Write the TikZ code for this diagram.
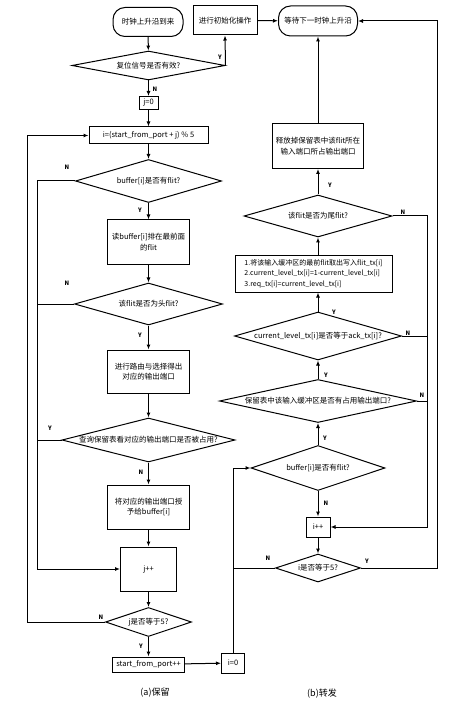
\documentclass[tikz,border=0pt]{standalone}
\usepackage{fontspec}
\setmainfont{Noto Sans CJK SC}
\usetikzlibrary{shapes.geometric,arrows.meta}

\newcommand{\dlab}[1]{\makebox[0pt]{#1}}

\tikzset{
  box/.style={draw, line width=1pt, inner sep=1pt, align=center, font=\fontsize{7.5}{10.5}\selectfont},
  term/.style={box, rounded corners=12pt},
  dec/.style={draw, diamond, line width=1pt, inner sep=0pt, font=\fontsize{7.5}{10}\selectfont},
  arr/.style={line width=1pt, -{Latex[length=5pt,width=4pt]}},
  ln/.style={line width=1pt},
  yn/.style={font=\fontsize{6}{7}\selectfont\bfseries, inner sep=0pt},
}

\begin{document}
\begin{tikzpicture}[x=1pt, y=-1pt]

  \useasboundingbox (0,0) rectangle (450,708);

  % (a) reservation
  \node[term, minimum width=70pt, minimum height=29pt] (clk) at (148,22) {时钟上升沿到来};
  \node[dec, minimum width=153pt, minimum height=29pt] (rst) at (148.5,65.5) {\dlab{复位信号是否有效?}};
  \node[box, minimum width=64pt, minimum height=29pt] (init) at (225,20.5) {进行初始化操作};
  \node[term, minimum width=79pt, minimum height=30pt] (wait) at (318,21) {等待下一时钟上升沿};
  \node[box, minimum width=19pt, minimum height=13pt] (j0) at (148.5,103) {j=0};
  \node[box, minimum width=119pt, minimum height=17pt] (calc) at (148.5,135.5) {i=(start\_from\_port + j) \% 5};
  \node[dec, minimum width=146pt, minimum height=43pt] (buf) at (148.5,181) {\dlab{buffer[i]是否有flit?}};
  \node[box, minimum width=82pt, minimum height=44pt] (rd) at (148.5,242) {读buffer[i]排在最前面\\的flit};
  \node[dec, minimum width=148pt, minimum height=42pt] (head) at (148.5,304) {\dlab{该flit是否为头flit?}};
  \node[box, minimum width=82pt, minimum height=43pt] (route) at (148.5,371.5) {进行路由与选择得出\\对应的输出端口};
  \node[dec, minimum width=173pt, minimum height=44pt] (chk) at (148.5,440) {\dlab{查询保留表看对应的输出端口是否被占用?}};
  \node[box, minimum width=82pt, minimum height=44pt] (grant) at (148.5,507) {将对应的输出端口授\\予给buffer[i]};
  \node[box, minimum width=56pt, minimum height=44pt] (jinc) at (148.5,569) {j++};
  \node[dec, minimum width=86pt, minimum height=29pt] (jeq) at (148.5,622) {\dlab{j是否等于5?}};
  \node[box, minimum width=72pt, minimum height=15pt] (sfp) at (148.5,664.5) {start\_from\_port++};
  \node[box, minimum width=23pt, minimum height=20pt] (i0) at (233,663) {i=0};

  % (b) forwarding
  \node[dec, minimum width=134pt, minimum height=45pt] (rbuf) at (318,468) {\dlab{buffer[i]是否有flit?}};
  \node[box, minimum width=24pt, minimum height=20pt] (iinc) at (318,527) {i++};
  \node[dec, minimum width=85pt, minimum height=28pt] (ieq) at (318,568) {\dlab{i是否等于5?}};
  \node[dec, minimum width=197pt, minimum height=43pt] (occ) at (318,401) {\dlab{保留表中该输入缓冲区是否有占用输出端口?}};
  \node[dec, minimum width=167pt, minimum height=48pt] (lvl) at (318,336) {\dlab{current\_level\_tx[i]是否等于ack\_tx[i]?}};
  \node[box, minimum width=157pt, minimum height=37pt, align=left, font=\fontsize{7}{10.5}\selectfont] (send) at (313.5,273.5)
    {1.将该输入缓冲区的最前flit取出写入flit\_tx[i]\\2.current\_level\_tx[i]=1-current\_level\_tx[i]\\3.req\_tx[i]=current\_level\_tx[i]};
  \node[dec, minimum width=148pt, minimum height=42pt] (tail) at (318,216) {\dlab{该flit是否为尾flit?}};
  \node[box, minimum width=91pt, minimum height=45pt] (rel) at (318,146) {释放掉保留表中该flit所在\\输入端口所占输出端口};

  % bus lines
  \coordinate (lbus) at (37,181);
  \coordinate (obus) at (27,622);
  \coordinate (nbus) at (427,216);
  \coordinate (rbus) at (437,568);

  % arrows (a)
  \draw[arr] (clk) -- (rst);
  \draw[arr] (rst.east) -- (init.south);
  \draw[arr] (init) -- (wait);
  \draw[arr] (rst) -- (j0);
  \draw[arr] (j0) -- (calc);
  \draw[arr] (calc) -- (buf);
  \draw[arr] (buf) -- (rd);
  \draw[arr] (rd) -- (head);
  \draw[arr] (head) -- (route);
  \draw[arr] (route) -- (chk);
  \draw[arr] (chk) -- (grant);
  \draw[arr] (grant) -- (jinc);
  \draw[arr] (jinc) -- (jeq);
  \draw[arr] (jeq) -- (sfp);
  \draw[arr] (sfp) -- (i0);
  \draw[arr] (buf.west) -- (lbus) |- (jinc.west);
  \draw[ln] (head.west) -- (head.west -| lbus);
  \draw[ln] (chk.west) -- (chk.west -| lbus);
  \draw[arr] (jeq.west) -- (obus) |- (calc.west);

  % arrows (b)
  \draw[arr] (i0.north) |- (rbuf.west);
  \draw[ln] (ieq.west) -- (ieq.west -| i0.north);
  \draw[arr] (rbuf) -- (iinc);
  \draw[arr] (iinc) -- (ieq);
  \draw[arr] (ieq.east) -- (rbus) |- (wait.east);
  \draw[arr] (rbuf) -- (occ);
  \draw[arr] (occ) -- (lvl);
  \draw[arr] (lvl.north) -- (lvl.north |- send.south);
  \draw[arr] (tail.south |- send.north) -- (tail.south);
  \draw[arr] (tail) -- (rel);
  \draw[arr] (rel) -- (wait);
  \draw[arr] (tail.east) -- (nbus) |- (iinc.east);
  \draw[ln] (lvl.east) -- (lvl.east -| nbus);
  \draw[ln] (occ.east) -- (occ.east -| nbus);

  % Y / N labels
  \node[yn] (yrst) at (220,57) {Y};
  \node[yn] (nrst) at (155,89) {N};
  \node[yn] (nbuf) at (67,167) {N};
  \node[yn] (ybuf) at (140,210) {Y};
  \node[yn] (nhead) at (67,283) {N};
  \node[yn] (yhead) at (140,335) {Y};
  \node[yn] (ychk) at (50,428) {Y};
  \node[yn] (nchk) at (141,472) {N};
  \node[yn] (njeq) at (101,617) {N};
  \node[yn] (yjeq) at (141,646) {Y};
  \node[yn] (yrbuf) at (325,438) {Y};
  \node[yn] (nrbuf) at (326,503) {N};
  \node[yn] (nieq) at (268,558) {N};
  \node[yn] (yieq) at (367,561) {Y};
  \node[yn] (yocc) at (326,375) {Y};
  \node[yn] (nocc) at (422,395) {N};
  \node[yn] (ylvl) at (334,312) {Y};
  \node[yn] (nlvl) at (408,333) {N};
  \node[yn] (ytail) at (330,185) {Y};
  \node[yn] (ntail) at (403,212) {N};

  % captions
  \node[font=\fontsize{9}{11}\selectfont] (capa) at (155,693) {(a)保留};
  \node[font=\fontsize{9}{11}\selectfont] (capb) at (322,694) {(b)转发};

\end{tikzpicture}
\end{document}
